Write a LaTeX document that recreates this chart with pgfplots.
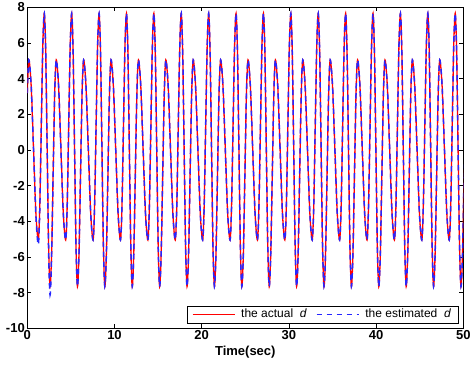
\documentclass[border=0pt]{standalone}
\usepackage{fontspec}
\setmainfont{Liberation Sans}
\usepackage{pgfplots}
\pgfplotsset{compat=1.18}
\usepackage{pgfplotstable}
\pgfplotstableread{
t a e
0.000 3.19 3.19
0.178 5.05 5.05
0.448 3.57 3.57
0.718 0 0
0.988 -3.57 -3.70
1.258 -5.05 -5.32
1.431 -3.19 -3.35
1.604 1.31 1.31
1.777 5.80 5.80
1.950 7.66 7.66
2.115 5.42 5.42
2.280 0 0
2.445 -5.42 -5.70
2.610 -7.66 -8.13
2.788 -5.80 -6.05
2.965 -1.31 -1.31
3.143 3.19 3.19
3.320 5.05 5.05
3.590 3.57 3.57
3.860 0 0
4.130 -3.57 -3.57
4.400 -5.05 -5.05
4.573 -3.19 -3.19
4.746 1.31 1.31
4.919 5.80 5.80
5.092 7.66 7.66
5.257 5.42 5.42
5.422 0 0
5.587 -5.42 -5.42
5.752 -7.66 -7.66
5.929 -5.80 -5.80
6.107 -1.31 -1.31
6.284 3.19 3.19
6.462 5.05 5.05
6.732 3.57 3.57
7.002 0 0
7.272 -3.57 -3.57
7.542 -5.05 -5.05
7.715 -3.19 -3.19
7.888 1.31 1.31
8.061 5.80 5.80
8.233 7.66 7.66
8.398 5.42 5.42
8.563 0 0
8.728 -5.42 -5.42
8.893 -7.66 -7.66
9.071 -5.80 -5.80
9.248 -1.31 -1.31
9.426 3.19 3.19
9.603 5.05 5.05
9.873 3.57 3.57
10.143 0 0
10.413 -3.57 -3.57
10.683 -5.05 -5.05
10.856 -3.19 -3.19
11.029 1.31 1.31
11.202 5.80 5.80
11.375 7.66 7.66
11.540 5.42 5.42
11.705 0 0
11.870 -5.42 -5.42
12.035 -7.66 -7.66
12.212 -5.80 -5.80
12.390 -1.31 -1.31
12.567 3.19 3.19
12.745 5.05 5.05
13.015 3.57 3.57
13.285 0 0
13.555 -3.57 -3.57
13.825 -5.05 -5.05
13.998 -3.19 -3.19
14.171 1.31 1.31
14.344 5.80 5.80
14.516 7.66 7.66
14.681 5.42 5.42
14.846 0 0
15.011 -5.42 -5.42
15.176 -7.66 -7.66
15.354 -5.80 -5.80
15.531 -1.31 -1.31
15.709 3.19 3.19
15.886 5.05 5.05
16.156 3.57 3.57
16.426 0 0
16.696 -3.57 -3.57
16.966 -5.05 -5.05
17.139 -3.19 -3.19
17.312 1.31 1.31
17.485 5.80 5.80
17.658 7.66 7.66
17.823 5.42 5.42
17.988 0 0
18.153 -5.42 -5.42
18.318 -7.66 -7.66
18.496 -5.80 -5.80
18.673 -1.31 -1.31
18.851 3.19 3.19
19.028 5.05 5.05
19.298 3.57 3.57
19.568 0 0
19.838 -3.57 -3.57
20.108 -5.05 -5.05
20.281 -3.19 -3.19
20.454 1.31 1.31
20.627 5.80 5.80
20.800 7.66 7.66
20.965 5.42 5.42
21.130 0 0
21.295 -5.42 -5.42
21.460 -7.66 -7.66
21.637 -5.80 -5.80
21.815 -1.31 -1.31
21.992 3.19 3.19
22.170 5.05 5.05
22.440 3.57 3.57
22.710 0 0
22.980 -3.57 -3.57
23.250 -5.05 -5.05
23.423 -3.19 -3.19
23.596 1.31 1.31
23.769 5.80 5.80
23.941 7.66 7.66
24.106 5.42 5.42
24.271 0 0
24.436 -5.42 -5.42
24.601 -7.66 -7.66
24.779 -5.80 -5.80
24.956 -1.31 -1.31
25.134 3.19 3.19
25.311 5.05 5.05
25.581 3.57 3.57
25.851 0 0
26.121 -3.57 -3.57
26.391 -5.05 -5.05
26.564 -3.19 -3.19
26.737 1.31 1.31
26.910 5.80 5.80
27.083 7.66 7.66
27.248 5.42 5.42
27.413 0 0
27.578 -5.42 -5.42
27.743 -7.66 -7.66
27.920 -5.80 -5.80
28.098 -1.31 -1.31
28.275 3.19 3.19
28.453 5.05 5.05
28.723 3.57 3.57
28.993 0 0
29.263 -3.57 -3.57
29.533 -5.05 -5.05
29.706 -3.19 -3.19
29.879 1.31 1.31
30.052 5.80 5.80
30.224 7.66 7.66
30.389 5.42 5.42
30.554 0 0
30.719 -5.42 -5.42
30.884 -7.66 -7.66
31.062 -5.80 -5.80
31.239 -1.31 -1.31
31.417 3.19 3.19
31.594 5.05 5.05
31.864 3.57 3.57
32.134 0 0
32.404 -3.57 -3.57
32.674 -5.05 -5.05
32.847 -3.19 -3.19
33.020 1.31 1.31
33.193 5.80 5.80
33.366 7.66 7.66
33.531 5.42 5.42
33.696 0 0
33.861 -5.42 -5.42
34.026 -7.66 -7.66
34.204 -5.80 -5.80
34.381 -1.31 -1.31
34.559 3.19 3.19
34.736 5.05 5.05
35.006 3.57 3.57
35.276 0 0
35.546 -3.57 -3.57
35.816 -5.05 -5.05
35.989 -3.19 -3.19
36.162 1.31 1.31
36.335 5.80 5.80
36.508 7.66 7.66
36.673 5.42 5.42
36.838 0 0
37.003 -5.42 -5.42
37.168 -7.66 -7.66
37.345 -5.80 -5.80
37.523 -1.31 -1.31
37.700 3.19 3.19
37.878 5.05 5.05
38.148 3.57 3.57
38.418 0 0
38.688 -3.57 -3.57
38.958 -5.05 -5.05
39.131 -3.19 -3.19
39.304 1.31 1.31
39.477 5.80 5.80
39.649 7.66 7.66
39.814 5.42 5.42
39.979 0 0
40.144 -5.42 -5.42
40.309 -7.66 -7.66
40.487 -5.80 -5.80
40.664 -1.31 -1.31
40.842 3.19 3.19
41.019 5.05 5.05
41.289 3.57 3.57
41.559 0 0
41.829 -3.57 -3.57
42.099 -5.05 -5.05
42.272 -3.19 -3.19
42.445 1.31 1.31
42.618 5.80 5.80
42.791 7.66 7.66
42.956 5.42 5.42
43.121 0 0
43.286 -5.42 -5.42
43.451 -7.66 -7.66
43.628 -5.80 -5.80
43.806 -1.31 -1.31
43.983 3.19 3.19
44.161 5.05 5.05
44.431 3.57 3.57
44.701 0 0
44.971 -3.57 -3.57
45.241 -5.05 -5.05
45.414 -3.19 -3.19
45.587 1.31 1.31
45.760 5.80 5.80
45.932 7.66 7.66
46.097 5.42 5.42
46.262 0 0
46.427 -5.42 -5.42
46.592 -7.66 -7.66
46.770 -5.80 -5.80
46.947 -1.31 -1.31
47.125 3.19 3.19
47.302 5.05 5.05
47.572 3.57 3.57
47.842 0 0
48.112 -3.57 -3.57
48.382 -5.05 -5.05
48.555 -3.19 -3.19
48.728 1.31 1.31
48.901 5.80 5.80
49.074 7.66 7.66
49.239 5.42 5.42
49.404 0 0
49.569 -5.42 -5.42
49.734 -7.66 -7.66
49.912 -5.80 -5.80
50.089 -1.31 -1.31
50.267 3.19 3.19
}\data
\begin{document}
\begin{tikzpicture}
\useasboundingbox (-27.3pt,-57.6pt) rectangle (446.7pt,328.3pt);
\begin{axis}[
  at={(0pt,0pt)}, anchor=south west,
  scale only axis, width=436pt, height=321pt,
  xmin=0, xmax=50, ymin=-10, ymax=8,
  xtick={0,10,...,50}, ytick={-10,-8,...,8},
  tick align=inside, major tick length=4pt,
  tick style={black, line width=0.6pt},
  axis line style={line width=0.8pt},
  /pgf/number format/assume math mode=true,
  ticklabel style={font=\bfseries\fontsize{13}{15}\selectfont},
  yticklabel style={xshift=1pt},
  xticklabel style={yshift=1pt},
  xlabel={Time(sec)},
  xlabel style={font=\bfseries\fontsize{13}{15}\selectfont, yshift=1pt},
  legend columns=2,
  legend style={at={(rel axis cs:0.9885,0.016)}, anchor=south east,
    fill=white, font=\fontsize{12}{14}\selectfont,
    inner xsep=5pt, inner ysep=1.5pt,
    /tikz/every odd column/.append style={column sep=4pt},
    /tikz/every even column/.append style={column sep=7pt}},
  legend image code/.code={\draw[#1] (0pt,0pt) -- (42pt,0pt);},
]
\addplot[red, line width=1.3pt, smooth] table[x=t, y=a] {\data};
\addlegendentry{the actual\ \ \textit{d}}
\addplot[blue!85!white, line width=1.5pt, dash pattern=on 5.5pt off 4.5pt, smooth] table[x=t, y=e] {\data};
\addlegendentry{the estimated\ \ \textit{d}}
\end{axis}
\end{tikzpicture}
\end{document}
